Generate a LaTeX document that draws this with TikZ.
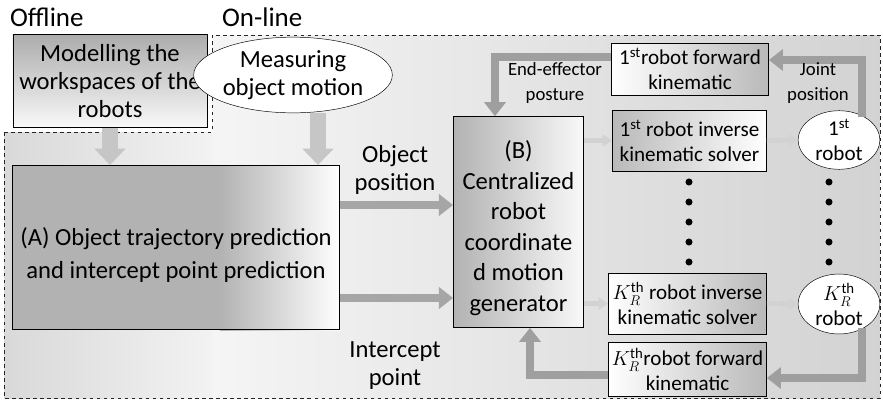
\documentclass[tikz,border=0pt]{standalone}
\usepackage{fontspec}
\setmainfont{Carlito}
\usepackage{amsmath}
\usetikzlibrary{positioning,calc,arrows.meta,shapes.geometric}

\tikzset{
  blk/.style={draw, inner sep=1pt, align=center},
  oval/.style={draw, ellipse, fill=white, inner sep=0pt, align=center},
  fat/.style={line width=7pt, draw=gray!75, -{Triangle[length=12pt,width=18pt]}},
  thin arr/.style={line width=4pt, draw=gray!35, -{Triangle[length=8pt,width=10pt]}},
  down arr/.style={line width=13pt, draw=gray!45, -{Triangle[length=14pt,width=26pt]}},
  dot/.style={circle, fill=black, inner sep=0pt, minimum size=6pt},
  big/.style={font=\fontsize{21}{24}\selectfont},
  mid/.style={font=\fontsize{18}{21}\selectfont}
}

\begin{document}
\begin{tikzpicture}[x=0.03cm, y=-0.03cm, font=\fontsize{18}{21}\selectfont, every node/.append style={align=center}]
  \useasboundingbox (0,0) rectangle (883,408);

  % regions
  \shade[left color=gray!8, right color=gray!35] (212,35) rectangle (880,398);
  \shade[left color=gray!30, right color=gray!10] (4,132) rectangle (212,398);
  \draw[dashed, thick, gray!30!black] (4,132) -- (212,132) -- (212,35) -- (880,35) -- (880,398) -- (4,398) -- cycle;
  \node[anchor=west, font=\fontsize{23}{24}\selectfont] (offl) at (6,17) {Offline};
  \node[anchor=west, font=\fontsize{23}{24}\selectfont] (onl) at (218,17) {On-line};

  % offline / input
  \node[blk, big, top color=gray!65, bottom color=gray!5, minimum width=195*0.85pt, minimum height=93*0.85pt] (model) at (110,81) {Modelling the\\workspaces of the\\robots};
  \node[oval, big, minimum width=160*0.85pt, minimum height=76*0.85pt] (meas) at (293,75) {Measuring\\object motion};

  % main blocks
  \fill[gray!60] (12,165) rectangle (220,330);
  \shade[left color=gray!60, right color=white] (220,165) rectangle (340,330);
  \node[blk, minimum width=328*0.85pt, minimum height=165*0.85pt] (A) at (176,247.5) {};
  \node[big, font=\fontsize{21}{28}\selectfont] (Atext) at (176,255) {(A) Object trajectory prediction\\and intercept point prediction};
  \node[blk, left color=gray!60, right color=gray!5, minimum width=131*0.85pt, minimum height=212*0.85pt] (B) at (518.5,222) {};
  \node[font=\fontsize{21}{26}\selectfont] (Btext) at (518.5,228) {(B)\\Centralized\\robot\\coordinate\\d motion\\generator};

  \node[blk, left color=white, right color=gray!55, minimum width=158*0.85pt, minimum height=52*0.85pt] (fk1) at (690,69) {1\textsuperscript{st}robot forward\\kinematic};
  \node[blk, left color=gray!55, right color=white, minimum width=155*0.85pt, minimum height=61*0.85pt] (ik1) at (689.5,140.5) {1\textsuperscript{st} robot inverse\\kinematic solver};
  \node[blk, left color=white, right color=gray!55, minimum width=159*0.85pt, minimum height=61*0.85pt] (ikk) at (687.5,303.5) {$K_R^{\mathrm{th}}$ robot inverse\\kinematic solver};
  \node[blk, left color=white, right color=gray!55, minimum width=159*0.85pt, minimum height=54*0.85pt] (fkk) at (687.5,369) {$K_R^{\mathrm{th}}$robot forward\\kinematic};
  \node[oval, minimum width=82*0.85pt, minimum height=50*0.85pt] (r1) at (839,140) {1\textsuperscript{st}\\robot};
  \node[oval, minimum width=82*0.85pt, minimum height=50*0.85pt] (rk) at (839,304) {$K_R^{\mathrm{th}}$\\robot};

  % dots
  \foreach \y in {182,202,222,242,262} {
    \node[dot] at (689,\y) {};
    \node[dot] at (829,\y) {};
  }

  % input arrows
  \draw[down arr] (model.south) -- (110,165);
  \draw[down arr] (318,113) -- (318,165);
  \coordinate (aTop) at (340,205);
  \coordinate (aBot) at (340,298);
  \draw[fat, draw=gray!70] (aTop) -- (aTop -| B.west);
  \draw[fat, draw=gray!70] (aBot) -- (aBot -| B.west);
  \node[big] (objpos) at (395,170) {Object\\position};
  \node[big] (intpt) at (395,366) {Intercept\\point};

  % forward paths
  \draw[thin arr] (B.east |- ik1) -- (ik1.west);
  \draw[thin arr] (B.east |- ikk) -- (ikk.west);
  \draw[thin arr] (ik1.east) -- (r1.west);
  \draw[thin arr] (ikk.east) -- (rk.west);

  % feedback loops
  \draw[fat] (862,117) -- (862,60) -- (fk1.east |- 0,60);
  \draw[fat] (fk1.west |- 0,57) -- (495,57) -- (B.north -| 495,0);
  \draw[fat] (862,328) -- (862,378) -- (fkk.east |- 0,378);
  \draw[fat] (fkk.west |- 0,375) -- (530,375) -- (B.south -| 530,0);
  \node[font=\fontsize{16}{21}\selectfont] (eep) at (555,83) {End-effector\\posture};
  \node[font=\fontsize{16}{21}\selectfont] (jp) at (818,83) {Joint\\position};
\end{tikzpicture}
\end{document}
